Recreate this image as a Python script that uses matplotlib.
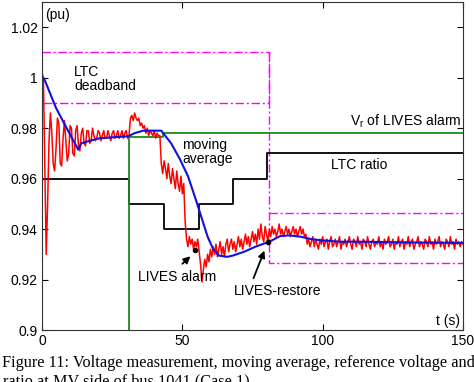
import matplotlib
matplotlib.use("Agg")
import matplotlib.pyplot as plt
import numpy as np

# voltage measurement (thousandths of pu), sampled every 0.5 s from t=0 to t=150
red_mpu = [
    1002, 1000, 965, 930, 950, 975, 986, 978, 966, 963,
    972, 984, 982, 966, 965, 976, 983, 975, 967, 970,
    981, 980, 970, 969, 979, 981, 973, 971, 978, 980,
    974, 973, 979, 979, 974, 975, 980, 977, 975, 976,
    979, 978, 975, 977, 979, 976, 976, 979, 977, 975,
    978, 979, 976, 977, 979, 976, 977, 979, 976, 978,
    979, 976, 977, 984, 985, 983, 986, 984, 983, 984,
    981, 982, 980, 981, 978, 980, 977, 979, 978, 977,
    979, 976, 978, 977, 977, 966, 962, 967, 964, 960,
    966, 961, 958, 964, 960, 956, 963, 958, 955, 961,
    954, 958, 943, 936, 933, 937, 934, 936, 932, 935,
    933, 936, 931, 926, 919, 924, 928, 925, 930, 927,
    932, 929, 933, 930, 934, 929, 932, 935, 930, 933,
    929, 934, 936, 931, 934, 936, 932, 935, 931, 934,
    937, 933, 936, 932, 935, 938, 934, 937, 933, 936,
    939, 935, 938, 934, 940, 936, 942, 937, 935, 941,
    938, 935, 940, 937, 941, 938, 940, 937, 939, 942,
    938, 940, 937, 939, 941, 938, 940, 937, 939, 941,
    938, 940, 937, 939, 941, 938, 940, 937, 938, 934,
    936, 933, 935, 937, 933, 936, 934, 932, 936, 934,
    937, 933, 935, 936, 932, 935, 937, 933, 934, 936,
    933, 935, 937, 932, 935, 934, 936, 933, 935, 937,
    934, 932, 936, 935, 933, 937, 934, 935, 932, 936,
    935, 933, 937, 934, 932, 935, 936, 933, 935, 934,
    937, 933, 935, 932, 936, 934, 935, 937, 933, 934,
    936, 932, 935, 934, 937, 933, 935, 936, 932, 935,
    934, 937, 933, 935, 936, 932, 934, 935, 937, 933,
    935, 934, 932, 936, 935, 933, 937, 934, 935, 932,
    936, 934, 935, 937, 933, 935, 934, 932, 936, 935,
    933, 937, 934, 935, 932, 936, 934, 935, 933, 935,
    934,
]
red_t = np.arange(len(red_mpu)) * 0.5
red_v = np.array(red_mpu) / 1000.0

# moving average
avg_t = [0, 1, 2.8, 5, 8.8, 12.9, 14, 17, 20.6, 30.7, 33, 36, 42.5, 46, 49, 52,
         55, 57, 59, 61, 63, 66, 68, 72, 76, 81, 84.8, 88, 92, 96, 99, 106, 113,
         130, 150]
avg_v = [1.0005, 0.999, 0.994, 0.988, 0.980, 0.9715, 0.974, 0.975, 0.976, 0.9768,
         0.978, 0.979, 0.979, 0.974, 0.968, 0.961, 0.951, 0.944, 0.937, 0.932,
         0.9295, 0.929, 0.9295, 0.931, 0.933, 0.935, 0.9372, 0.9375, 0.937,
         0.936, 0.9356, 0.935, 0.935, 0.9347, 0.9345]

# reference voltage of LIVES alarm (steps)
vr_t = [31, 31, 43, 43, 150]
vr_v = [0.9, 0.9765, 0.9765, 0.978, 0.978]

# LTC ratio (steps)
ltc_t = [0, 31, 31, 43.5, 43.5, 56, 56, 68, 68, 80, 80, 150]
ltc_v = [0.96, 0.96, 0.95, 0.95, 0.94, 0.94, 0.95, 0.95, 0.96, 0.96, 0.97, 0.97]

# LTC deadband boxes
db1_t = [0, 81, 81, 0]
db1_v = [1.01, 1.01, 0.99, 0.99]
db2_t = [81, 81, 150]
db2_v = [1.01, 0.9265, 0.9265]
db3_t = [81, 150]
db3_v = [0.9465, 0.9465]

# event markers
alarm_pt = (54.5, 0.9317)
restore_pt = (80.5, 0.935)

plt.rcParams['font.family'] = ['Liberation Sans', 'DejaVu Sans']
fig = plt.figure(figsize=(4.74, 3.82), dpi=100)
ax = fig.add_axes([42 / 474, 1 - 330 / 382, 421 / 474, 328 / 382])

mag = '#ff00ff'
dash = (0, (6, 2, 1.5, 2))
ax.plot(db1_t, db1_v, color=mag, lw=1, ls=dash)
ax.plot(db2_t, db2_v, color=mag, lw=1, ls=dash)
ax.plot(db3_t, db3_v, color=mag, lw=1, ls=dash)
ax.plot(ltc_t, ltc_v, color='black', lw=1.3)
ax.plot(vr_t, vr_v, color='#1a8c1a', lw=1.3)
ax.plot(red_t, red_v, color='#ff0000', lw=1.1)
ax.plot(avg_t, avg_v, color='#1010e0', lw=1.5)
ax.plot(*alarm_pt, 'o', color='black', ms=3)
ax.plot(*restore_pt, 'o', color='black', ms=3)

ax.set_xlim(0, 150)
ax.set_ylim(0.9, 1.03)
ax.set_xticks([0, 50, 100, 150])
ax.set_yticks([0.9, 0.92, 0.94, 0.96, 0.98, 1.0, 1.02])
ax.set_yticklabels(['0.9', '0.92', '0.94', '0.96', '0.98', '1', '1.02'])
ax.tick_params(direction='in', top=True, right=True, labelsize=10, length=4, pad=3)
for s in ax.spines.values():
    s.set_color('#333333')

fs = 10
ax.text(1, 1.025, '(pu)', fontsize=fs, va='center')
ax.text(11.5, 0.9995, 'LTC\ndeadband', fontsize=fs, va='center', linespacing=1.05)
ax.text(50, 0.9705, 'moving\naverage', fontsize=fs, va='center', linespacing=1.05)
ax.text(149.5, 0.9792, r'V$_\mathregular{r}$ of LIVES alarm', fontsize=fs, ha='right', va='bottom')
ax.text(113, 0.9653, 'LTC ratio', fontsize=fs, ha='center', va='center')
ax.text(48.3, 0.921, 'LIVES alarm', fontsize=fs, ha='center', va='center')
ax.text(84, 0.9155, 'LIVES-restore', fontsize=fs, ha='center', va='center')
ax.text(149, 0.9035, 't (s)', fontsize=fs, ha='right', va='center')
ax.annotate('', xy=(53.6, 0.9300), xytext=(49.3, 0.9255),
            arrowprops=dict(arrowstyle='-|>', color='black', lw=1.3, mutation_scale=10))
ax.annotate('', xy=(79.6, 0.9325), xytext=(75, 0.9195),
            arrowprops=dict(arrowstyle='-|>', color='black', lw=1.3, mutation_scale=10))

fig.text(2 / 474, 1 - 367 / 382,
         'Figure 11: Voltage measurement, moving average, reference voltage and',
         family=['Liberation Serif', 'DejaVu Serif'], fontsize=11.7, va='baseline')
fig.text(3 / 474, 1 - 385 / 382,
         'ratio at MV side of bus 1041 (Case 1).',
         family=['Liberation Serif', 'DejaVu Serif'], fontsize=11.7, va='baseline')

fig.savefig('out.png', dpi=100)
